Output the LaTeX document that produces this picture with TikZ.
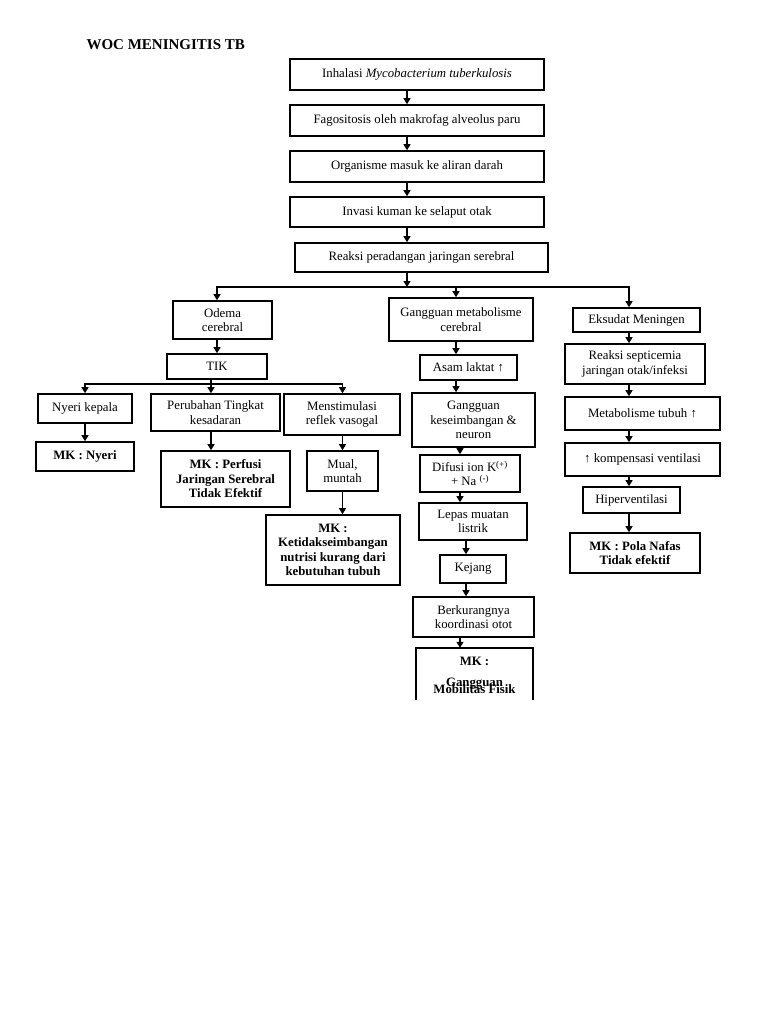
\documentclass[tikz,border=0pt]{standalone}
\usepackage{fontspec}
\setmainfont{Liberation Serif}
\usepackage{tikz}
\usetikzlibrary{arrows.meta, positioning}
\tikzset{
  box/.style={draw, line width=1.6pt, align=center, inner sep=1pt, font=\fontsize{12.8}{14.5}\selectfont},
  mkbox/.style={box, font=\fontsize{12.8}{14.5}\selectfont\bfseries},
  mktext/.style={align=center, inner sep=0pt, font=\fontsize{12.8}{14.5}\selectfont\bfseries},
  arr/.style={-{Triangle[length=6pt,width=7pt]}, line width=1.2pt}
}

\begin{document}
\begin{tikzpicture}[x=1pt, y=-1pt]
\useasboundingbox (0,0) rectangle (768,1024);
\fill[white] (0,0) rectangle (768,1024);

% Title
\node[anchor=west, font=\fontsize{15}{18}\selectfont\bfseries] (title) at (83,45) {WOC MENINGITIS TB};

% Main chain
\node[box, minimum width=254pt, minimum height=31pt] (inhal) at (417,74.5) {Inhalasi \textit{Mycobacterium tuberkulosis}};
\node[box, minimum width=254pt, minimum height=31pt] (fago) at (417,120.5) {Fagositosis oleh makrofag alveolus paru};
\node[box, minimum width=254pt, minimum height=31pt] (organ) at (417,166.5) {Organisme masuk ke aliran darah};
\node[box, minimum width=254pt, minimum height=30pt] (invasi) at (417,212) {Invasi kuman ke selaput otak};
\node[box, minimum width=253pt, minimum height=29pt] (reaksi) at (421.5,257.5) {Reaksi peradangan jaringan serebral};

\coordinate (spine) at (407,0);
\draw[arr] (inhal.south -| spine) -- (fago.north -| spine);
\draw[arr] (fago.south -| spine) -- (organ.north -| spine);
\draw[arr] (organ.south -| spine) -- (invasi.north -| spine);
\draw[arr] (invasi.south -| spine) -- (reaksi.north -| spine);

% Left branch
\node[box, minimum width=99pt, minimum height=38pt] (odema) at (222.5,320) {Odema\\cerebral};
\node[box, minimum width=100pt, minimum height=25pt] (tik) at (217,366.5) {TIK};
\node[box, minimum width=94pt, minimum height=29pt] (nyeri) at (85,408.5) {Nyeri kepala};
\node[box, minimum width=129pt, minimum height=37pt] (perubahan) at (215.5,412.5) {Perubahan Tingkat\\kesadaran};
\node[box, minimum width=116pt, minimum height=41pt] (menstim) at (342,414.5) {Menstimulasi\\reflek vasogal};
\node[mkbox, minimum width=98pt, minimum height=29pt] (mknyeri) at (85,456.5) {MK : Nyeri};
\node[mkbox, minimum width=129pt, minimum height=56pt] (mkperfusi) at (225.5,479) {MK : Perfusi\\Jaringan Serebral\\Tidak Efektif};
\node[box, minimum width=71pt, minimum height=40pt] (mual) at (342.5,471) {Mual,\\muntah};
\node[mkbox, minimum width=134pt, minimum height=70pt] (mkketidak) at (333,550) {MK :\\Ketidakseimbangan\\nutrisi kurang dari\\kebutuhan tubuh};

% Middle branch
\node[box, minimum width=144pt, minimum height=43pt] (gmetab) at (461,319.5) {Gangguan metabolisme\\cerebral};
\node[box, minimum width=97pt, minimum height=25pt] (asam) at (468.5,367.5) {Asam laktat ↑};
\node[box, minimum width=123pt, minimum height=54pt] (gkes) at (473.5,420) {Gangguan\\keseimbangan \&\\neuron};
\node[box, minimum width=100pt, minimum height=37pt] (difusi) at (470,473.5) {Difusi ion K\textsuperscript{(+)}\\+ Na \textsuperscript{(-)}};
\node[box, minimum width=108pt, minimum height=37pt] (lepas) at (473,521.5) {Lepas muatan\\listrik};
\node[box, minimum width=66pt, minimum height=28pt] (kejang) at (473,569) {Kejang};
\node[box, minimum width=121pt, minimum height=40pt] (berkur) at (473.5,617) {Berkurangnya\\koordinasi otot};
\node[minimum width=117pt, minimum height=52pt, inner sep=0pt] (mkgang) at (474.5,674) {};
\draw[line width=1.6pt] (mkgang.south west) -- (mkgang.north west) -- (mkgang.north east) -- (mkgang.south east);
\node[mktext] (mkganglbl) at (474.5,661) {MK :};
\node[mktext] (ganglbl) at (474.5,684) {Gangguan};
\node[mktext] (mobillbl) at (474.5,689) {Mobilitas Fisik};

% Right branch
\node[box, minimum width=127pt, minimum height=24pt] (eksudat) at (636.5,320) {Eksudat Meningen};
\node[box, minimum width=140pt, minimum height=40pt] (septic) at (635,364) {Reaksi septicemia\\jaringan otak/infeksi};
\node[box, minimum width=155pt, minimum height=33pt] (metab) at (642.5,413.5) {Metabolisme tubuh ↑};
\node[box, minimum width=155pt, minimum height=33pt] (kompen) at (642.5,459.5) {↑ kompensasi ventilasi};
\node[box, minimum width=97pt, minimum height=26pt] (hiper) at (631.5,500) {Hiperventilasi};
\node[mkbox, minimum width=130pt, minimum height=40pt] (mkpola) at (635,553) {MK : Pola Nafas\\Tidak efektif};

% Bus from main chain
\coordinate (bus1) at (407,287);
\coordinate (mida) at (456,0);
\coordinate (midb) at (460,0);
\coordinate (midc) at (466,0);
\coordinate (rgt) at (629,0);
\draw[arr] (reaksi.south -| spine) -- (bus1);
\draw[arr] (bus1) -| (odema.north -| tik.center);
\draw[arr] (bus1) -| (gmetab.north -| mida);
\draw[arr] (bus1) -| (eksudat.north -| rgt);

% Left connectors
\coordinate (bus2) at (211,384);
\draw[arr] (odema.south -| tik.center) -- (tik.north);
\draw[arr] (tik.south -| bus2) -- (perubahan.north -| bus2);
\draw[arr] (bus2) -| (nyeri.north);
\draw[arr] (bus2) -| (menstim.north -| mual.north);
\draw[arr] (nyeri.south) -- (mknyeri.north);
\draw[arr] (perubahan.south -| bus2) -- (mkperfusi.north -| bus2);
\draw[arr] (menstim.south -| mual.north) -- (mual.north);
\draw[arr] (mual.south) -- (mkketidak.north -| mual.south);

% Middle connectors
\draw[arr] (gmetab.south -| mida) -- (asam.north -| mida);
\draw[arr] (asam.south -| mida) -- (gkes.north -| mida);
\draw[arr] (gkes.south -| midb) -- (difusi.north -| midb);
\draw[arr] (difusi.south -| midb) -- (lepas.north -| midb);
\draw[arr] (lepas.south -| midc) -- (kejang.north -| midc);
\draw[arr] (kejang.south -| midc) -- (berkur.north -| midc);
\draw[arr] (berkur.south -| midb) -- (mkgang.north -| midb);

% Right connectors
\draw[arr] (eksudat.south -| rgt) -- (septic.north -| rgt);
\draw[arr] (septic.south -| rgt) -- (metab.north -| rgt);
\draw[arr] (metab.south -| rgt) -- (kompen.north -| rgt);
\draw[arr] (kompen.south -| rgt) -- (hiper.north -| rgt);
\draw[arr] (hiper.south -| rgt) -- (mkpola.north -| rgt);
\end{tikzpicture}
\end{document}
